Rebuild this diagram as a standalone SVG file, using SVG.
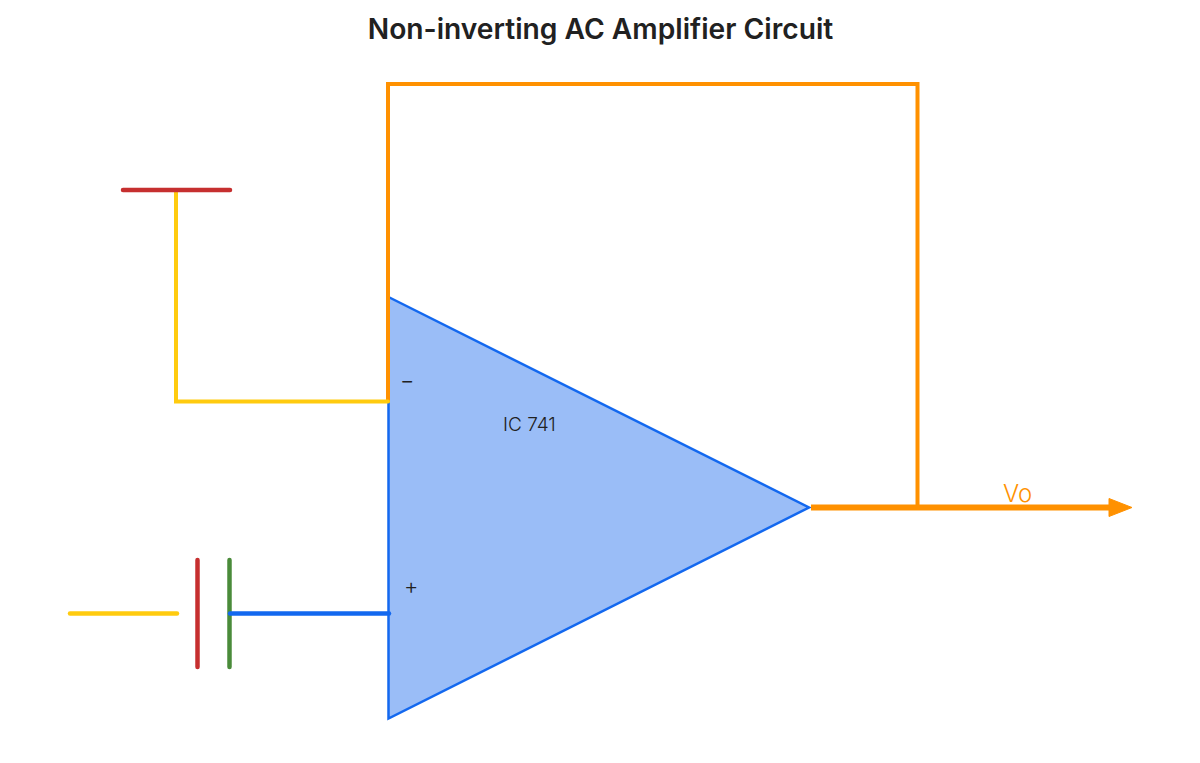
<svg xmlns="http://www.w3.org/2000/svg" width="1200" height="763" viewBox="0 0 1200 763">
<style>
text{font-family:"Inter","Liberation Sans",sans-serif}
.title{font-size:28.200px;font-weight:600;fill:#212121;text-anchor:middle}
.lbl{font-size:19px;font-weight:300;fill:#212121}
.w{fill:none;stroke-linecap:round;stroke-linejoin:miter}
.o{stroke:#ff9100}.y{stroke:#ffcb0f}.r{stroke:#c62f2f}.g{stroke:#4a8b3a}.b{stroke:#1368ef}
</style>
<defs><marker id="arrow" markerUnits="userSpaceOnUse" markerWidth="26" markerHeight="22" refX="1" refY="11" orient="auto"><path d="M1 2 L24 11 L1 20 Z" fill="#ff9100" stroke="#ff9100" stroke-width="1" stroke-linejoin="round"/></marker></defs>
<rect width="1200" height="763" fill="#fff"/>
<text class="title" x="600.500" y="39">Non-inverting AC Amplifier Circuit</text>
<g id="opamp"><path d="M388.500 297 L809 507.500 L388.500 718.500 Z" fill="#9abdf7" stroke="#1368ef" stroke-width="2.500" stroke-linejoin="miter"/></g>
<g id="capacitor"><path class="w r" stroke-width="4.500" d="M197.500 560 V667"/><path class="w g" stroke-width="4.500" d="M229.500 560 V667"/></g>
<g id="connectors">
<path class="w o" stroke-width="4" d="M388 401 V84 H917.500 V507"/>
<path class="w y" stroke-width="4" d="M176 192 V401.500 H388"/>
<path class="w o" stroke-width="6" d="M811 507.500 H1109" marker-end="url(#arrow)" style="stroke-linecap:butt"/>
<path class="w y" stroke-width="4.500" d="M70 613.500 H177"/>
<path class="w b" stroke-width="4.500" d="M230 613.500 H389"/>
</g>
<g id="supply"><path class="w r" stroke-width="4.500" d="M123 190 H230"/></g>
<g id="labels">
<text class="lbl" x="503" y="431">IC 741</text>
<text class="lbl" x="400" y="388" style="font-size:22px">−</text>
<text class="lbl" x="404" y="594" style="font-size:22px">+</text>
<text class="lbl" x="1003" y="502" style="font-size:24px;fill:#ff9100">Vo</text>
</g>
</svg>
